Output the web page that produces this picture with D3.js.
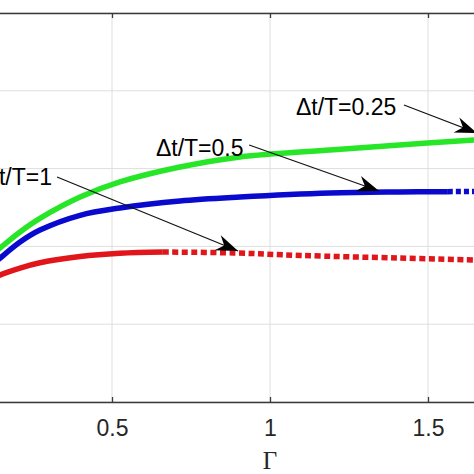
<!DOCTYPE html>
<html>
<head>
<meta charset="utf-8">
<script src="https://cdn.jsdelivr.net/npm/d3@7"></script>
<style>
  body { margin: 0; background: #fff; }
  svg { display: block; }
</style>
</head>
<body>
<svg id="chart"></svg>
<script>
// x values (Gamma) and y values
const xTicks = [0, 0.5, 1, 1.5, 2];
const xLabelTicks = [0.5, 1, 1.5];
const yTicks = [0, 0.5, 1, 1.5, 2, 2.5];

const greenGamma = [0.12, 0.146, 0.209, 0.272, 0.399, 0.525, 0.715, 0.905, 1.19, 1.41, 1.646, 1.70];
const greenVals  = [0.945, 0.99, 1.093, 1.18, 1.317, 1.414, 1.51, 1.575, 1.62, 1.652, 1.684, 1.69];

const blueGamma = [0.12, 0.146, 0.209, 0.272, 0.399, 0.525, 0.715, 0.905, 1.19, 1.41, 1.563];
const blueVals  = [0.88, 0.925, 1.028, 1.105, 1.2, 1.247, 1.292, 1.317, 1.343, 1.35, 1.352];
const blueDashGamma = [1.563, 1.646, 1.70];
const blueDashVals  = [1.352, 1.353, 1.353];

const redGamma = [0.12, 0.146, 0.209, 0.272, 0.399, 0.525, 0.661];
const redVals  = [0.784, 0.816, 0.861, 0.895, 0.935, 0.956, 0.964];
const redDotGamma = [0.661, 0.886, 1.095, 1.41, 1.646, 1.70];
const redDotVals  = [0.964, 0.958, 0.942, 0.925, 0.913, 0.911];

// annotation labels: text anchor point and arrow start/tip, in data units
const labels = ["\u0394t/T=0.25", "\u0394t/T=0.5", "\u0394t/T=1"];
const labelPos = [[1.082, 1.845], [0.639, 1.581], [0.310, 1.395]];
const labelAnchor = ["start", "start", "end"];
const arrowFrom = [[1.424, 1.909], [0.934, 1.652], [0.326, 1.446]];
const arrowTo = [[1.655, 1.729], [1.345, 1.356], [0.899, 0.970]];

const W = 474, H = 474;
const svg = d3.select("#chart").attr("width", W).attr("height", H);

// plot box runs partly off the visible picture (left and right)
const x = d3.scaleLinear().domain([0, 2]).range([-46, 586]);
const y = d3.scaleLinear().domain([0, 2.5]).range([402, 13]);

const axisColor = "#3a3a3a";
const font = "'Liberation Sans', Arial, Helvetica, sans-serif";

// grid
svg.append("g")
  .selectAll("line.vg")
  .data(xTicks)
  .enter()
  .append("line")
  .attr("x1", d => x(d)).attr("x2", d => x(d))
  .attr("y1", y(2.5)).attr("y2", y(0))
  .style("stroke", "#dedede")
  .style("stroke-width", 1);

svg.append("g")
  .selectAll("line.hg")
  .data(yTicks)
  .enter()
  .append("line")
  .attr("x1", x(0)).attr("x2", x(2))
  .attr("y1", d => y(d)).attr("y2", d => y(d))
  .style("stroke", "#dedede")
  .style("stroke-width", 1);

// axes (ticks pointing inward)
const xAxis = d3.axisBottom(x)
  .tickValues(xLabelTicks)
  .tickSizeInner(-5)
  .tickSizeOuter(0)
  .tickPadding(18)
  .tickFormat(d => d3.format("")(d));

const gx = svg.append("g")
  .attr("transform", `translate(0, ${y(0)})`)
  .call(xAxis);

gx.selectAll("text")
  .style("font-family", font)
  .style("font-size", "23px")
  .style("fill", "#262626");

svg.append("g")
  .attr("transform", `translate(0, ${y(2.5)})`)
  .call(d3.axisTop(x).tickValues(xLabelTicks).tickSizeInner(-5).tickSizeOuter(0).tickFormat(""));

svg.selectAll(".domain, .tick line")
  .style("stroke", axisColor)
  .style("stroke-width", 1.3);

svg.append("text")
  .attr("x", x(1))
  .attr("y", 469)
  .attr("text-anchor", "middle")
  .style("font-family", "'Liberation Serif', 'Times New Roman', serif")
  .style("font-size", "25px")
  .style("fill", "#262626")
  .text("\u0393");

// curves
const line = d3.line()
  .x(d => x(d[0]))
  .y(d => y(d[1]))
  .curve(d3.curveCatmullRom.alpha(0.5));

const zip = (a, b) => a.map((v, i) => [v, b[i]]);

const series = [
  { pts: zip(redDotGamma, redDotVals), color: "#e0161b", dash: "6,3.5" },
  { pts: zip(redGamma, redVals), color: "#e0161b", dash: null },
  { pts: zip(blueDashGamma, blueDashVals), color: "#0a0acf", dash: "5,3" },
  { pts: zip(blueGamma, blueVals), color: "#0a0acf", dash: null },
  { pts: zip(greenGamma, greenVals), color: "#27e627", dash: null }
];

svg.append("g")
  .selectAll("path")
  .data(series)
  .enter()
  .append("path")
  .attr("d", d => line(d.pts))
  .style("fill", "none")
  .style("stroke", d => d.color)
  .style("stroke-width", 5.5)
  .style("stroke-dasharray", d => d.dash);

// annotations
const notes = svg.append("g");

labels.forEach((txt, i) => {
  const [x0, y0] = [x(arrowFrom[i][0]), y(arrowFrom[i][1])];
  const [x1, y1] = [x(arrowTo[i][0]), y(arrowTo[i][1])];
  const ang = Math.atan2(y1 - y0, x1 - x0) * 180 / Math.PI;

  notes.append("line")
    .attr("x1", x0).attr("y1", y0)
    .attr("x2", x1).attr("y2", y1)
    .style("stroke", "#111")
    .style("stroke-width", 1.2);

  // arrow head with a notched back, drawn at the tip
  notes.append("path")
    .attr("d", "M0,0 L-22,-8 L-15,0 L-22,8 Z")
    .attr("transform", `translate(${x1}, ${y1}) rotate(${ang})`)
    .style("fill", "#000");

  notes.append("text")
    .attr("x", x(labelPos[i][0]))
    .attr("y", y(labelPos[i][1]))
    .attr("text-anchor", labelAnchor[i])
    .style("font-family", font)
    .style("font-size", "23px")
    .style("fill", "#000")
    .text(txt);
});
</script>
</body>
</html>
